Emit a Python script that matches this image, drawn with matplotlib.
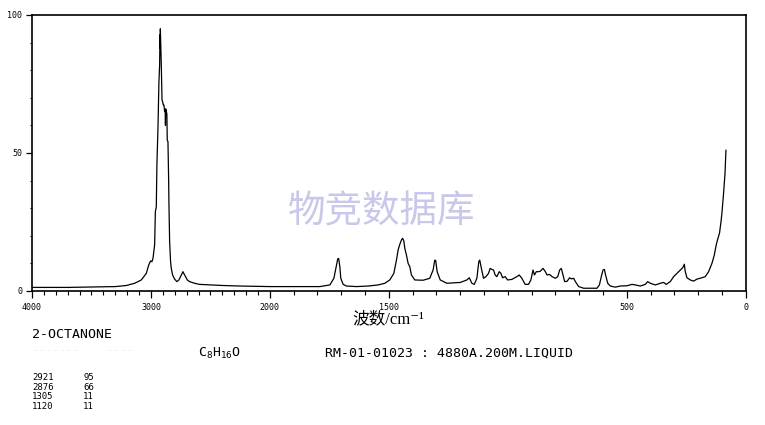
import numpy as np
import matplotlib.pyplot as plt
from matplotlib.ticker import FixedLocator

# Raman spectrum of 2-octanone
wavenumber = [
    4000, 3850, 3700, 3550, 3420, 3300, 3206, 3137, 3081, 3039, 3019, 3003,
    2992, 2983, 2969, 2963, 2955, 2950, 2941, 2933, 2927, 2924, 2922.5, 2921,
    2913, 2907, 2902, 2896, 2891, 2885, 2880, 2878, 2876, 2870, 2866, 2863,
    2857, 2851, 2849, 2843, 2835, 2829, 2818, 2801, 2782, 2765, 2745, 2731,
    2717, 2694, 2675, 2633, 2591, 2500, 2400, 2250, 2100, 2000, 1900, 1790,
    1748, 1731, 1723, 1715, 1711, 1706, 1702, 1692, 1678, 1636, 1587, 1545,
    1517, 1496, 1479, 1468, 1461, 1454, 1447, 1442, 1437, 1433, 1426, 1419,
    1412, 1405, 1391, 1356, 1328, 1314, 1307, 1303, 1297, 1284, 1256, 1200,
    1172, 1162, 1151, 1141, 1130, 1122, 1118, 1111, 1102, 1092, 1081, 1074,
    1067, 1060, 1053, 1046, 1036, 1029, 1022, 1011, 1001, 983, 962, 952,
    941, 927, 913, 903, 894, 888, 880, 870, 863, 852, 842, 835,
    824, 814, 800, 790, 782, 775, 768, 761, 751, 740, 733, 723,
    716, 702, 681, 625, 615, 607, 600, 594, 589, 580, 569, 548,
    527, 499, 478, 464, 443, 422, 412, 401, 380, 359, 345, 334,
    317, 303, 289, 275, 264, 258, 254, 247, 233, 219, 205, 184,
    170, 156, 142, 132, 124, 117, 110, 104, 100, 93, 87, 83,
]
intensity = [
    1.3, 1.3, 1.3, 1.4, 1.5, 1.6, 2.0, 2.8, 4.0, 6.4, 9.4, 10.9,
    10.6, 11.8, 16.7, 28.7, 30.5, 45.7, 59.0, 75.8, 81.9, 92.8, 88.0, 95.0,
    81.9, 69.2, 68.6, 67.4, 67.4, 65.0, 65.6, 60.0, 66.0, 65.0, 64.0, 54.7,
    54.1, 39.6, 32.4, 17.9, 10.6, 8.2, 5.8, 4.3, 3.4, 4.0, 5.8, 7.0,
    5.8, 4.0, 3.4, 2.8, 2.4, 2.2, 2.0, 1.8, 1.7, 1.6, 1.6, 1.6,
    2.2, 4.6, 8.2, 11.6, 11.8, 8.8, 4.6, 2.4, 1.8, 1.6, 1.8, 2.2,
    2.8, 4.0, 6.4, 11.2, 14.9, 16.9, 18.5, 19.1, 18.1, 15.5, 13.0, 10.0,
    8.8, 5.8, 4.0, 3.9, 4.6, 7.6, 11.2, 11.0, 7.0, 4.0, 2.8, 3.1,
    4.0, 4.8, 2.8, 2.4, 4.6, 10.6, 11.2, 8.2, 4.6, 5.2, 6.4, 8.2,
    7.8, 7.6, 5.8, 5.2, 7.0, 6.4, 4.8, 5.2, 4.0, 4.2, 5.2, 5.8,
    4.6, 2.4, 2.4, 4.0, 7.6, 5.8, 7.0, 7.0, 7.2, 8.2, 7.0, 5.8,
    6.0, 5.2, 4.6, 5.2, 7.6, 8.2, 5.8, 3.4, 3.5, 4.8, 4.4, 4.6,
    3.4, 1.6, 1.0, 1.0, 2.2, 5.2, 7.6, 7.8, 5.8, 2.8, 1.8, 1.4,
    1.8, 1.9, 2.4, 2.2, 1.8, 2.4, 3.4, 2.8, 2.2, 2.8, 3.1, 2.4,
    3.4, 5.2, 6.4, 7.6, 8.5, 9.7, 7.0, 4.8, 4.0, 3.6, 4.3, 4.8,
    5.2, 7.0, 10.0, 13.0, 16.7, 19.0, 21.0, 25.0, 28.2, 35.4, 42.6, 51.0,
]

xtick_values = [4000, 3000, 2000, 1500, 500, 0]
xtick_labels = ['4000', '3000', '2000', '1500', '500', '0']
ytick_values = [0, 50, 100]

peak_positions = ['2921', '2876', '1305', '1120']
peak_heights = ['95', '66', '11', '11']


# axis is compressed by 2 above 2000 cm-1
def fwd(w):
    w = np.asarray(w, dtype=float)
    return np.where(w > 2000, 2000 + (w - 2000) / 2, w)


def inv(u):
    u = np.asarray(u, dtype=float)
    return np.where(u > 2000, 2000 + (u - 2000) * 2, u)


W, H = 765, 425
fig = plt.figure(figsize=(W / 100, H / 100), dpi=100)
ax = fig.add_axes([32 / W, 1 - 291 / H, (745.7 - 32) / W, (291 - 15) / H])

ax.set_xscale('function', functions=(fwd, inv))
ax.plot(wavenumber, intensity, color='black', lw=0.9)
ax.set_xlim(4000, 0)
ax.set_ylim(0, 100)

ax.set_xticks(xtick_values)
ax.set_xticklabels(xtick_labels)
ax.xaxis.set_minor_locator(FixedLocator(np.arange(0, 4001, 100)))
ax.set_yticks(ytick_values)
ax.yaxis.set_minor_locator(FixedLocator(np.arange(0, 101, 10)))

ax.tick_params(axis='x', which='major', direction='out', length=5, width=0.9, pad=4)
ax.tick_params(axis='x', which='minor', direction='out', length=3, width=0.8)
ax.tick_params(axis='y', which='major', direction='out', length=4, width=0.9, pad=3)
ax.tick_params(axis='y', which='minor', direction='out', length=1.5, width=0.8)
for lab in ax.get_xticklabels() + ax.get_yticklabels():
    lab.set_family('DejaVu Sans Mono')
    lab.set_fontsize(6)
for s in ax.spines.values():
    s.set_linewidth(1.2)

# watermark
fig.text(382 / W, 1 - 212 / H, '物竞数据库', family='Noto Sans CJK SC',
         fontsize=27, color='#c8c8ea', ha='center', va='center')

# axis label
fig.text(388 / W, 1 - 319 / H, '波数/cm⁻¹',
         family=['Liberation Serif', 'DejaVu Serif', 'Noto Sans CJK SC'],
         fontsize=12, ha='center', va='center')

mono = 'DejaVu Sans Mono'
fig.text(32 / W, 1 - 335 / H, '2-OCTANONE', family=mono, fontsize=9.5, va='center')
fig.text(32 / W, 1 - 350 / H, '-------    ----', family=mono, fontsize=8,
         color='#ececec', va='center')
fig.text(198 / W, 1 - 353 / H, r'C$_\mathregular{8}$H$_\mathregular{16}$O',
         family=mono, fontsize=9.5, va='center')
fig.text(325 / W, 1 - 353 / H, 'RM-01-01023 : 4880A.200M.LIQUID',
         family=mono, fontsize=9.5, va='center')

for i in range(len(peak_positions)):
    yy = 1 - (377.5 + i * 9.6) / H
    fig.text(32 / W, yy, peak_positions[i], family=mono, fontsize=6.5, va='center')
    fig.text(83 / W, yy, peak_heights[i], family=mono, fontsize=6.5, va='center')

fig.savefig('out.png', dpi=100)
